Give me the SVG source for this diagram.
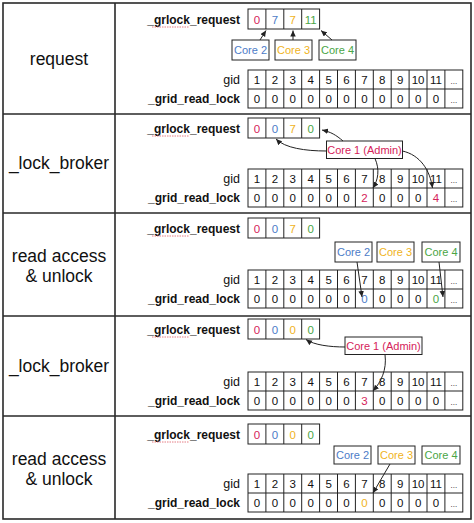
<svg xmlns="http://www.w3.org/2000/svg" xmlns:xlink="http://www.w3.org/1999/xlink" width="474" height="523" viewBox="0 0 474 523">
<style>
text{font-family:"Liberation Sans",Arial,sans-serif;fill:#111}
.lab{font-size:17.5px;text-anchor:middle}
.nm{font-size:12px;font-weight:bold;text-anchor:end}
.gid{font-size:12.5px;text-anchor:end}
.c{font-size:11.5px;text-anchor:middle}
.dots{font-size:8px;text-anchor:middle}
.core{font-size:11px;text-anchor:middle}
.r{fill:#d5225a}.b{fill:#4d7cc7}.y{fill:#f0b323}.g{fill:#4aa546}
.box{fill:#fff;stroke:#222;stroke-width:1}
.frame{fill:none;stroke:#2a2a2a;stroke-width:1.6}
.ln{stroke:#222;stroke-width:1}
.arr{fill:none;stroke:#222;stroke-width:1;marker-end:url(#ah)}
.sq{stroke:#e0606a;stroke-width:1;stroke-dasharray:1.5 1;opacity:.8}
</style>
<defs>
<marker id="ah" markerUnits="userSpaceOnUse" markerWidth="7" markerHeight="6" refX="6" refY="2.75" orient="auto"><path d="M0,0 L6,2.75 L0,5.5 z" fill="#222"/></marker>
<g id="tbl">
<rect class="box" x="248" y="0" width="214.8" height="38"/>
<path class="ln" d="M248,19H462.8M265.9,0V38M283.8,0V38M301.7,0V38M319.6,0V38M337.5,0V38M355.4,0V38M373.3,0V38M391.2,0V38M409.1,0V38M427,0V38M444.9,0V38"/>
<text class="c" x="257" y="13.8">1</text><text class="c" x="274.9" y="13.8">2</text><text class="c" x="292.8" y="13.8">3</text><text class="c" x="310.7" y="13.8">4</text><text class="c" x="328.6" y="13.8">5</text><text class="c" x="346.5" y="13.8">6</text><text class="c" x="364.4" y="13.8">7</text><text class="c" x="382.3" y="13.8">8</text><text class="c" x="400.2" y="13.8">9</text><text class="c" x="418.1" y="13.8">10</text><text class="c" x="436" y="13.8">11</text><text class="dots" x="453.9" y="13.5">...</text>
<text class="dots" x="453.9" y="32.5">...</text>
<text class="gid" x="240" y="14">gid</text>
<text class="nm" x="240" y="33">_grid_read_lock</text>
</g>
<g id="req">
<rect class="box" x="248" y="0" width="71.6" height="20"/>
<path class="ln" d="M265.9,0V20M283.8,0V20M301.7,0V20"/>
<text class="nm" x="240" y="14.5">_grlock_request</text>
<line class="sq" x1="152" y1="18" x2="189" y2="18"/>
</g>
</defs>

<g id="frame">
<rect class="frame" x="3" y="3" width="468" height="516"/>
<path class="frame" d="M115,3V519M3,114H471M3,213H471M3,316H471M3,416H471"/>
</g>

<g id="row1">
<text class="lab" x="59" y="65">request</text>
<use xlink:href="#req" y="9"/>
<text class="c r" x="257" y="23.8">0</text><text class="c b" x="274.9" y="23.8">7</text><text class="c y" x="292.8" y="23.8">7</text><text class="c g" x="310.7" y="23.8">11</text>
<g id="r1core2"><rect class="box" x="232" y="40" width="37" height="20"/><text class="core b" x="250.5" y="54">Core 2</text></g>
<g id="r1core3"><rect class="box" x="275" y="40" width="37" height="20"/><text class="core y" x="293.5" y="54">Core 3</text></g>
<g id="r1core4"><rect class="box" x="319" y="40" width="37" height="20"/><text class="core g" x="337.5" y="54">Core 4</text></g>
<use xlink:href="#tbl" y="70"/>
<text class="c" x="257" y="102.8">0</text><text class="c" x="274.9" y="102.8">0</text><text class="c" x="292.8" y="102.8">0</text><text class="c" x="310.7" y="102.8">0</text><text class="c" x="328.6" y="102.8">0</text><text class="c" x="346.5" y="102.8">0</text><text class="c" x="364.4" y="102.8">0</text><text class="c" x="382.3" y="102.8">0</text><text class="c" x="400.2" y="102.8">0</text><text class="c" x="418.1" y="102.8">0</text><text class="c" x="436" y="102.8">0</text>
</g>

<g id="row2">
<text class="lab" x="59" y="169">_lock_broker</text>
<use xlink:href="#req" y="118"/>
<text class="c r" x="257" y="132.8">0</text><text class="c b" x="274.9" y="132.8">0</text><text class="c y" x="292.8" y="132.8">7</text><text class="c g" x="310.7" y="132.8">0</text>
<g id="r2admin"><rect class="box" x="326.5" y="141" width="76" height="17.5"/><text class="core r" x="364.5" y="154">Core 1 (Admin)</text></g>
<use xlink:href="#tbl" y="169"/>
<text class="c" x="257" y="201.8">0</text><text class="c" x="274.9" y="201.8">0</text><text class="c" x="292.8" y="201.8">0</text><text class="c" x="310.7" y="201.8">0</text><text class="c" x="328.6" y="201.8">0</text><text class="c" x="346.5" y="201.8">0</text><text class="c r" x="364.4" y="201.8">2</text><text class="c" x="382.3" y="201.8">0</text><text class="c" x="400.2" y="201.8">0</text><text class="c" x="418.1" y="201.8">0</text><text class="c r" x="436" y="201.8">4</text>
</g>

<g id="row3">
<text class="lab" x="59" y="262">read access</text>
<text class="lab" x="59" y="282">&amp; unlock</text>
<use xlink:href="#req" y="218"/>
<text class="c r" x="257" y="232.8">0</text><text class="c b" x="274.9" y="232.8">0</text><text class="c y" x="292.8" y="232.8">7</text><text class="c g" x="310.7" y="232.8">0</text>
<g id="r3core2"><rect class="box" x="335" y="242" width="37" height="20"/><text class="core b" x="353.5" y="256">Core 2</text></g>
<g id="r3core3"><rect class="box" x="377" y="242" width="37" height="20"/><text class="core y" x="395.5" y="256">Core 3</text></g>
<g id="r3core4"><rect class="box" x="422" y="242" width="38" height="20"/><text class="core g" x="441" y="256">Core 4</text></g>
<use xlink:href="#tbl" y="270"/>
<text class="c" x="257" y="302.8">0</text><text class="c" x="274.9" y="302.8">0</text><text class="c" x="292.8" y="302.8">0</text><text class="c" x="310.7" y="302.8">0</text><text class="c" x="328.6" y="302.8">0</text><text class="c" x="346.5" y="302.8">0</text><text class="c b" x="364.4" y="302.8">0</text><text class="c" x="382.3" y="302.8">0</text><text class="c" x="400.2" y="302.8">0</text><text class="c" x="418.1" y="302.8">0</text><text class="c g" x="436" y="302.8">0</text>
</g>

<g id="row4">
<text class="lab" x="59" y="372">_lock_broker</text>
<use xlink:href="#req" y="319"/>
<text class="c r" x="257" y="333.8">0</text><text class="c b" x="274.9" y="333.8">0</text><text class="c y" x="292.8" y="333.8">0</text><text class="c g" x="310.7" y="333.8">0</text>
<g id="r4admin"><rect class="box" x="345" y="337" width="77" height="17.5"/><text class="core r" x="383.5" y="350">Core 1 (Admin)</text></g>
<use xlink:href="#tbl" y="372"/>
<text class="c" x="257" y="404.8">0</text><text class="c" x="274.9" y="404.8">0</text><text class="c" x="292.8" y="404.8">0</text><text class="c" x="310.7" y="404.8">0</text><text class="c" x="328.6" y="404.8">0</text><text class="c" x="346.5" y="404.8">0</text><text class="c r" x="364.4" y="404.8">3</text><text class="c" x="382.3" y="404.8">0</text><text class="c" x="400.2" y="404.8">0</text><text class="c" x="418.1" y="404.8">0</text><text class="c" x="436" y="404.8">0</text>
</g>

<g id="row5">
<text class="lab" x="59" y="465">read access</text>
<text class="lab" x="59" y="485">&amp; unlock</text>
<use xlink:href="#req" y="424"/>
<text class="c r" x="257" y="438.8">0</text><text class="c b" x="274.9" y="438.8">0</text><text class="c y" x="292.8" y="438.8">0</text><text class="c g" x="310.7" y="438.8">0</text>
<g id="r5core2"><rect class="box" x="334" y="446" width="37" height="18"/><text class="core b" x="352.5" y="459">Core 2</text></g>
<g id="r5core3"><rect class="box" x="378" y="446" width="37" height="18"/><text class="core y" x="396.5" y="459">Core 3</text></g>
<g id="r5core4"><rect class="box" x="422" y="446" width="38" height="18"/><text class="core g" x="441" y="459">Core 4</text></g>
<use xlink:href="#tbl" y="474"/>
<text class="c" x="257" y="506.8">0</text><text class="c" x="274.9" y="506.8">0</text><text class="c" x="292.8" y="506.8">0</text><text class="c" x="310.7" y="506.8">0</text><text class="c" x="328.6" y="506.8">0</text><text class="c" x="346.5" y="506.8">0</text><text class="c y" x="364.4" y="506.8">0</text><text class="c" x="382.3" y="506.8">0</text><text class="c" x="400.2" y="506.8">0</text><text class="c" x="418.1" y="506.8">0</text><text class="c" x="436" y="506.8">0</text>
</g>

<g id="connectors">
<path class="arr" d="M260,40 L266,30.5"/>
<path class="arr" d="M293,40 L293,30.5"/>
<path class="arr" d="M332,40 L321,30.5"/>
<path class="arr" d="M343,141 C336,135 331,132 322,130"/>
<path class="arr" d="M326.5,151 C305,151 285,148 276,139"/>
<path class="arr" d="M375,158.5 C380,170 378,180 373,188"/>
<path class="arr" d="M402.5,151 C420,155 430,170 432.5,188"/>
<path class="arr" d="M357,262 L362,297"/>
<path class="arr" d="M439,262 L443,297"/>
<path class="arr" d="M345,347 C330,347 314,345 306,339.5"/>
<path class="arr" d="M385,354.5 C387,370 381,382 373,391"/>
<path class="arr" d="M390,464 L373,493"/>
</g>
</svg>
